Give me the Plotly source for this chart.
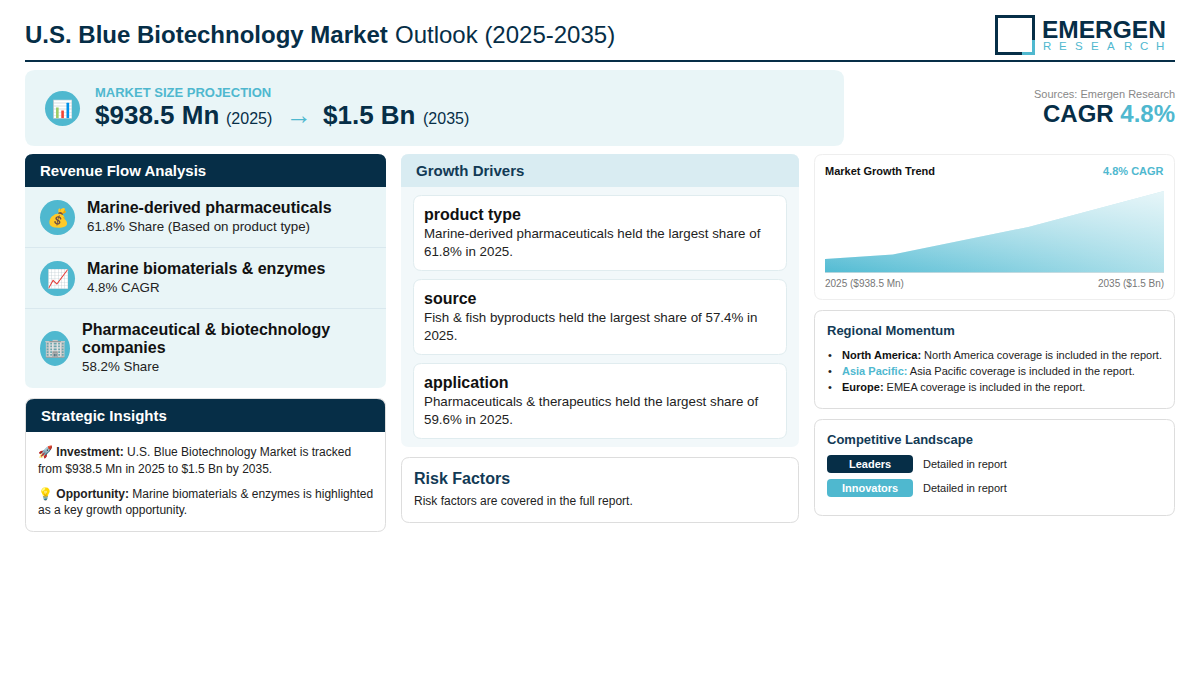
import plotly.graph_objects as go

NAVY = "#062e47"
TEAL = "#4fb8cf"
PALE = "#e9f5f7"
HEAD = "#123a55"
FONT = "Liberation Sans"

# Market growth trend (height above its baseline)
trend_years = [2025, 2027, 2031, 2035]
trend_heights = [13.5, 18, 45.5, 81.5]
trend_labels = ["2025 ($938.5 Mn)", "2035 ($1.5 Bn)"]

# Text content
flow_titles = [["Marine-derived pharmaceuticals"], ["Marine biomaterials & enzymes"],
               ["Pharmaceutical & biotechnology", "companies"]]
flow_notes = ["61.8% Share (Based on product type)", "4.8% CAGR", "58.2% Share"]
flow_icons = ["💰", "📈", "🏢"]
driver_titles = ["product type", "source", "application"]
driver_lines = [
    ["Marine-derived pharmaceuticals held the largest share of", "61.8% in 2025."],
    ["Fish & fish byproducts held the largest share of 57.4% in", "2025."],
    ["Pharmaceuticals & therapeutics held the largest share of", "59.6% in 2025."],
]
insight_lines = [
    "🚀 <b>Investment:</b> U.S. Blue Biotechnology Market is tracked",
    "from $938.5 Mn in 2025 to $1.5 Bn by 2035.",
    "💡 <b>Opportunity:</b> Marine biomaterials & enzymes is highlighted",
    "as a key growth opportunity.",
]
region_names = ["North America:", "Asia Pacific:", "Europe:"]
region_notes = ["North America coverage is included in the report.",
                "Asia Pacific coverage is included in the report.",
                "EMEA coverage is included in the report."]
tiers = ["Leaders", "Innovators"]

fig = go.Figure()


# everything below is placed in page pixels, y going down
def px(x):
    return x / 1200


def py(y):
    return 1 - y / 700


def box(x0, y0, x1, y1, fill="white", line=None, r=8, top=True, bottom=True, lw=1):
    rt = r if top else 0
    rb = r if bottom else 0
    X0, X1 = px(x0), px(x1)
    Y0, Y1 = py(y0), py(y1)
    rx_t, ry_t = rt / 1200, rt / 700
    rx_b, ry_b = rb / 1200, rb / 700
    path = (
        f"M {X0+rx_t} {Y0} L {X1-rx_t} {Y0} Q {X1} {Y0} {X1} {Y0-ry_t} "
        f"L {X1} {Y1+ry_b} Q {X1} {Y1} {X1-rx_b} {Y1} "
        f"L {X0+rx_b} {Y1} Q {X0} {Y1} {X0} {Y1+ry_b} "
        f"L {X0} {Y0-ry_t} Q {X0} {Y0} {X0+rx_t} {Y0} Z"
    )
    fig.add_shape(type="path", path=path, xref="paper", yref="paper", fillcolor=fill,
                  line=dict(color=line or fill, width=lw if line else 0), layer="below")


def hline(x0, x1, y, color, width=1):
    fig.add_shape(type="line", xref="paper", yref="paper", x0=px(x0), x1=px(x1), y0=py(y), y1=py(y),
                  line=dict(color=color, width=width), layer="below")


def circle(cx, cy, rx, ry, color=TEAL):
    fig.add_shape(type="circle", xref="paper", yref="paper", x0=px(cx-rx), x1=px(cx+rx), y0=py(cy-ry), y1=py(cy+ry),
                  fillcolor=color, line=dict(width=0), layer="below")


def label(x, y, text, size=12, color="#222222", bold=False, anchor="left"):
    fig.add_annotation(xref="paper", yref="paper", x=px(x), y=py(y), text=f"<b>{text}</b>" if bold else text,
                       showarrow=False, xanchor=anchor, yanchor="middle", align=anchor, borderpad=0, borderwidth=0,
                       font=dict(family=FONT, size=size, color=color))


# Header
label(25, 34, "U.S. Blue Biotechnology Market", 24, NAVY, True)
label(394.5, 34, "Outlook (2025-2035)", 24, NAVY)
hline(25, 1175, 61, NAVY, 2)

# Logo
box(996.5, 16.5, 1033.5, 53.5, "rgba(0,0,0,0)", NAVY, 0, lw=3)
fig.add_shape(type="line", xref="paper", yref="paper", x0=px(1022), x1=px(1035), y0=py(53.5), y1=py(53.5),
              line=dict(color=TEAL, width=3))
fig.add_shape(type="line", xref="paper", yref="paper", x0=px(1033.5), x1=px(1033.5), y0=py(40), y1=py(55),
              line=dict(color=TEAL, width=3))
label(1042, 30, "EMERGEN", 24.5, NAVY, True)
for i, ch in enumerate("RESEARCH"):
    label(1047 + i * 16.1, 46, ch, 11.5, TEAL, anchor="center")

# Projection banner
box(25, 70, 844, 146, PALE, r=10)
circle(62.5, 108.5, 17.5, 17.5)
label(62.5, 108.5, "📊", 17, "#000000", anchor="center")
label(95, 92.5, "MARKET SIZE PROJECTION", 13, TEAL, True)
label(95, 115, "$938.5 Mn", 26, NAVY, True)
label(226, 118, "(2025)", 16, NAVY)
label(286, 115, "→", 26, TEAL)
label(323, 115, "$1.5 Bn", 26, NAVY, True)
label(423, 118, "(2035)", 16, NAVY)

label(1175, 94, "Sources: Emergen Research", 11, "#888888", anchor="right")
label(1175, 114, f'<b>CAGR <span style="color:{TEAL}">4.8%</span></b>', 24, NAVY, anchor="right")

# Revenue flow
box(25, 187, 386, 388, PALE, top=False)
box(25, 154, 386, 187, NAVY, bottom=False)
label(40, 171, "Revenue Flow Analysis", 15, "white", True)
hline(25, 386, 247.5, "#d9e8ee")
hline(25, 386, 308.5, "#d9e8ee")
circle(57.5, 217.5, 17.5, 17.5)
circle(57.5, 278.5, 17.5, 17.5)
circle(55, 348.5, 15, 17.5)
flow_x = [87, 87, 82]
flow_title_y = [207.5, 268.5, 329.5]
flow_note_y = [226.5, 287.5, 366.5]
flow_icon_x = [57.5, 57.5, 55]
flow_icon_y = [217.5, 278.5, 348.5]
for i in range(3):
    label(flow_icon_x[i], flow_icon_y[i], flow_icons[i], 18, "#000000", anchor="center")
    for j, line in enumerate(flow_titles[i]):
        label(flow_x[i], flow_title_y[i] + j * 18, line, 16, "#111111", True)
    label(flow_x[i], flow_note_y[i], flow_notes[i], 13.33, "#222222")

# Strategic insights
box(25.5, 398.5, 385.5, 531.5, "white", "#dddddd")
box(26, 399, 385, 432, NAVY, bottom=False)
label(41, 415.5, "Strategic Insights", 15, "white", True)
for text, y in zip(insight_lines, [452, 469, 494, 510]):
    label(38, y, text, 12, "#222222")

# Growth drivers
box(401, 154, 799, 447, "#f2f8fa")
box(401, 154, 799, 187, "#d9ecf2", bottom=False)
label(416, 171, "Growth Drivers", 15, HEAD, True)
for i in range(3):
    top = 195 + i * 84
    box(413.5, top + 0.5, 786.5, top + 75.5, "white", "#e0ecef")
    label(424, top + 19.5, driver_titles[i], 16, "#111111", True)
    label(424, top + 38.5, driver_lines[i][0], 13.33, "#222222")
    label(424, top + 56.5, driver_lines[i][1], 13.33, "#222222")

# Risk factors
box(401.5, 457.5, 798.5, 522.5, "white", "#dddddd")
label(414, 478.5, "Risk Factors", 16, HEAD, True)
label(414, 501, "Risk factors are covered in the full report.", 12, "#222222")

# Growth trend card
box(814.5, 154.5, 1174.5, 299.5, "white", "#eeeeee")
label(825, 171, "Market Growth Trend", 11, "#111111", True)
label(1164, 171, "4.8% CAGR", 11, TEAL, True, anchor="right")
label(825, 283.5, trend_labels[0], 10, "#777777")
label(1164, 283.5, trend_labels[1], 10, "#777777", anchor="right")

fig.add_trace(go.Scatter(
    x=trend_years, y=trend_heights, mode="lines", line=dict(width=0), fill="tozeroy", hoverinfo="skip",
    fillgradient=dict(type="horizontal", colorscale=[[0, "#52bbd3"], [1, "#aee0ea"]]),
))
fig.add_trace(go.Scatter(
    x=trend_years, y=trend_heights, mode="lines", line=dict(width=0), fill="tozeroy", hoverinfo="skip",
    fillgradient=dict(type="vertical", colorscale=[[0, "rgba(255,255,255,0)"], [1, "rgba(255,255,255,0.7)"]]),
))
hline(825, 1164, 272.5, "#d5dde0")

# Regional momentum
box(814.5, 310.5, 1174.5, 408.5, "white", "#dddddd")
label(827, 330.5, "Regional Momentum", 13, HEAD, True)
for i in range(3):
    y = [354.5, 371, 387][i]
    label(828, y, "•", 11, "#222222")
    color = TEAL if i == 1 else "#111111"
    label(842, y, f'<b><span style="color:{color}">{region_names[i]}</span></b> {region_notes[i]}', 11, "#222222")

# Competitive landscape
box(814.5, 419.5, 1174.5, 515.5, "white", "#dddddd")
label(827, 439.5, "Competitive Landscape", 13, HEAD, True)
for i in range(2):
    top = 455 + i * 24
    box(827, top, 913, top + 18, [NAVY, TEAL][i], r=4)
    label(870, top + 9, tiers[i], 11, "white", True, anchor="center")
    label(923, top + 9, "Detailed in report", 11, "#222222")

fig.update_layout(
    width=1200, height=700, margin=dict(l=0, r=0, t=0, b=0),
    paper_bgcolor="white", plot_bgcolor="rgba(0,0,0,0)", showlegend=False,
    xaxis=dict(domain=[px(825), px(1164)], range=[2025, 2035], visible=False, fixedrange=True),
    yaxis=dict(domain=[py(272.5), py(191)], range=[0, 81.5], visible=False, fixedrange=True),
)

fig.write_html("out.html", post_script="document.body.style.margin='0';", config={"displayModeBar": False})
